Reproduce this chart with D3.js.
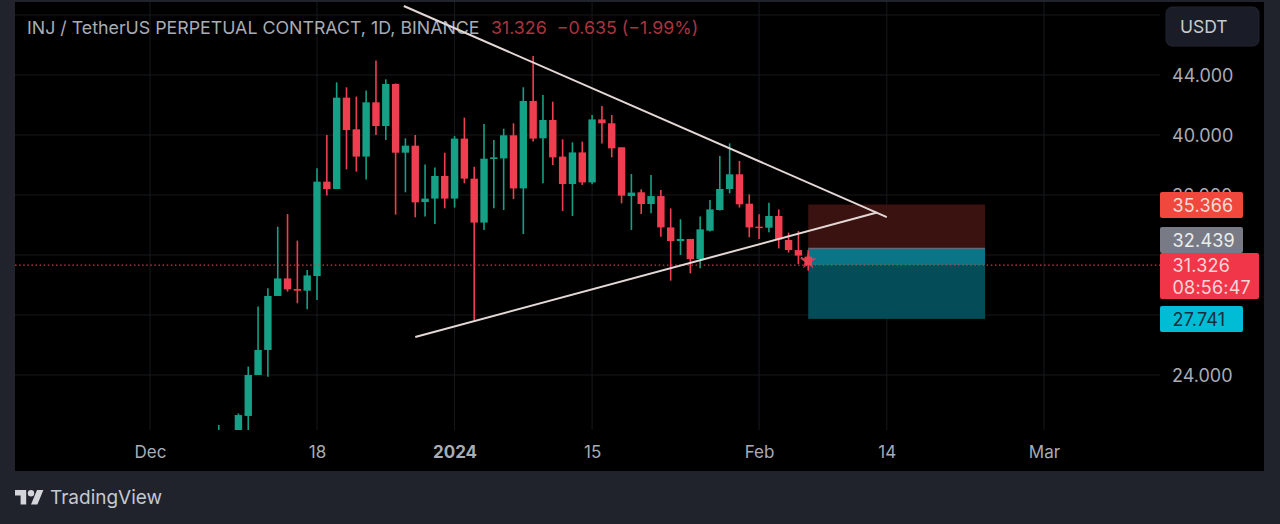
<!DOCTYPE html>
<html>
<head>
<meta charset="utf-8">
<script src="https://cdn.jsdelivr.net/npm/d3@7"></script>
<style>
html, body { margin: 0; padding: 0; background: #20222c; overflow: hidden; }
svg { display: block; font-family: Inter, Roboto, sans-serif; }
</style>
</head>
<body>
<div id="chart"></div>
<script>
// daily candles, first one is 8 Dec 2023
var opens = [20.2,20.0,19.9,21.27,24.0,25.67,29.27,30.44,29.73,29.62,30.6,36.89,36.4,42.49,40.38,38.56,42.18,40.6,43.4,38.82,39.29,35.53,35.76,37.27,35.76,39.76,37.09,34.16,38.4,38.44,
             39.98,36.44,42.27,39.78,41.0,38.56,36.73,38.84,36.84,41.04,40.78,39.18,35.93,36.18,35.4,35.93,33.84,32.93,33.07,31.73,33.62,35.0,36.4,37.38,35.42,33.89,33.82,34.6,33.0,32.33,31.89]
var highs = [20.67,20.3,21.44,24.56,28.56,29.78,33.89,34.73,32.96,31.0,37.78,40.0,43.51,43.18,42.56,42.96,44.96,43.71,43.44,39.78,40.0,38.04,37.84,38.82,39.93,41.16,37.89,40.73,39.67,40.42,
             40.78,43.18,45.27,42.67,42.22,39.71,39.51,39.56,41.33,41.93,41.33,39.18,37.4,36.38,37.33,36.33,35.11,34.38,33.07,34.56,35.67,38.6,39.44,38.27,36.04,34.71,35.49,35.04,33.49,33.6,32.33]
var lows = [20.0,19.8,19.7,20.33,24.0,23.89,29.27,29.56,28.78,28.38,29.0,35.96,36.4,37.71,37.56,37.04,40.0,39.67,34.69,36.18,34.51,34.56,34.07,35.11,35.16,36.78,27.67,33.67,35.11,35.0,
            35.73,33.4,39.56,36.78,38.0,34.93,34.6,36.67,36.71,39.44,38.51,35.44,33.67,34.73,34.78,33.22,30.29,32.0,30.78,31.11,33.56,34.96,36.11,35.16,33.18,33.07,33.51,32.44,32.16,31.4,30.96]
var closes = [20.3,20.3,21.33,24.0,25.67,29.27,30.44,29.71,29.62,30.64,36.89,36.4,42.49,40.33,38.56,42.18,40.6,43.4,38.82,39.29,35.51,35.76,37.27,35.76,39.76,37.09,34.16,38.42,38.51,39.98,
              36.44,42.27,39.76,41.0,38.51,36.73,38.84,36.84,41.04,40.78,39.11,35.96,36.16,35.4,35.93,33.84,32.93,33.07,31.73,33.71,35.04,36.4,37.38,35.38,33.84,33.8,34.6,33.04,32.33,31.96,31.33]

var gridPrices = [48, 44, 40, 36, 32, 28, 24]
// 32 and 28 sit behind the price tags, so no label for them
var priceTicks = [44, 40, 36, 24]
var timeTicks = ["2023-12-01", "2023-12-18", "2024-01-01", "2024-01-15", "2024-02-01", "2024-02-14", "2024-03-01"]
var timeLabels = ["Dec", "18", "2024", "15", "Feb", "14", "Mar"]

// drawings on the chart: [date, price]
var upperTrend = [["2023-12-26T20:00Z", 48.6], ["2024-02-14T00:00Z", 34.53]]
var lowerTrend = [["2023-12-28T00:00Z", 26.53], ["2024-02-13T00:00Z", 34.83]]
var positionDates = ["2024-02-06", "2024-02-24"]
var stopPrice = 35.366
var entryPrice = 32.439
var lastPrice = 31.326
var targetPrice = 27.741

var svg = d3.select("#chart").append("svg")
    .attr("width", 1280)
    .attr("height", 524)

var x = d3.scaleUtc()
    .domain([new Date("2023-12-01"), new Date("2024-03-01")])
    .range([150, 1044])
var y = d3.scaleLinear()
    .domain([44, 24])
    .range([75, 375])

svg.append("rect").attr("width", 1280).attr("height", 524).attr("fill", "#20222c")
svg.append("rect").attr("x", 15).attr("y", 2).attr("width", 1249).attr("height", 469).attr("fill", "#000")

svg.append("clipPath").attr("id", "pane").append("rect")
    .attr("x", 15).attr("y", 2).attr("width", 1145).attr("height", 428)

var pane = svg.append("g").attr("clip-path", "url(#pane)")

// Grid
pane.selectAll(".hgrid").data(gridPrices).enter().append("line")
    .attr("x1", 15).attr("x2", 1160)
    .attr("y1", function(d){ return y(d) }).attr("y2", function(d){ return y(d) })
    .attr("stroke", "#17191d")
pane.selectAll(".vgrid").data(timeTicks).enter().append("line")
    .attr("y1", 2).attr("y2", 430)
    .attr("x1", function(d){ return x(new Date(d)) }).attr("x2", function(d){ return x(new Date(d)) })
    .attr("stroke", "#17191d")

// Header sits under the trend line
svg.append("text").attr("x", 27).attr("y", 34)
    .attr("font-size", 17.8).attr("fill", "#a9acb5")
    .text("INJ / TetherUS PERPETUAL CONTRACT, 1D, BINANCE")
svg.append("text").attr("x", 491).attr("y", 34)
    .attr("font-size", 17.8).attr("fill", "#a8343f").attr("xml:space", "preserve")
    .text("31.326  \u22120.635 (\u22121.99%)")

// Position box
var boxLeft = x(new Date(positionDates[0]))
var boxWidth = x(new Date(positionDates[1])) - boxLeft
function box(top, bottom, color) {
    pane.append("rect")
        .attr("x", boxLeft).attr("width", boxWidth)
        .attr("y", y(top)).attr("height", y(bottom) - y(top))
        .attr("fill", color)
}
box(stopPrice, entryPrice, "#3a1210")
box(entryPrice, lastPrice, "#0a7587")
box(lastPrice, targetPrice, "#044c58")
pane.append("line")
    .attr("x1", boxLeft).attr("x2", boxLeft + boxWidth)
    .attr("y1", y(entryPrice)).attr("y2", y(entryPrice))
    .attr("stroke", "#5d6b72").attr("stroke-width", 1.5)

// Candles
var candles = d3.range(opens.length).map(function(i){
    return {
        date: d3.utcDay.offset(new Date("2023-12-08"), i),
        open: opens[i], high: highs[i], low: lows[i], close: closes[i]
    }
})
var candle = pane.selectAll(".candle").data(candles).enter().append("g")
    .attr("class", "candle")
    .attr("fill", function(d){ return d.close >= d.open ? "#16a085" : "#ef3e50" })
    .attr("stroke", function(d){ return d.close >= d.open ? "#16a085" : "#ef3e50" })
candle.append("line")
    .attr("x1", function(d){ return x(d.date) }).attr("x2", function(d){ return x(d.date) })
    .attr("y1", function(d){ return y(d.high) }).attr("y2", function(d){ return y(d.low) })
    .attr("stroke-width", 1.6)
candle.append("rect")
    .attr("stroke", "none")
    .attr("x", function(d){ return x(d.date) - 3.7 })
    .attr("width", 7.4)
    .attr("y", function(d){ return y(Math.max(d.open, d.close)) })
    .attr("height", function(d){ return Math.max(1.5, Math.abs(y(d.open) - y(d.close))) })

// Last price line
pane.append("line")
    .attr("x1", 15).attr("x2", 1160)
    .attr("y1", y(lastPrice)).attr("y2", y(lastPrice))
    .attr("stroke", "#c2404a").attr("stroke-width", 1.3)
    .attr("stroke-dasharray", "1.5 2.6")

// Trend lines
var trend = d3.line()
    .x(function(d){ return x(new Date(d[0])) })
    .y(function(d){ return y(d[1]) })
;[upperTrend, lowerTrend].forEach(function(t){
    svg.append("path")
        .attr("d", trend(t))
        .attr("fill", "none")
        .attr("stroke", "#e4d8d6")
        .attr("stroke-width", 2)
})

// Star marker on the last candle
var last = candles[candles.length - 1]
svg.append("line")
    .attr("x1", x(last.date) - 7).attr("y1", y(last.close) - 8)
    .attr("x2", x(last.date)).attr("y2", y(last.close) - 1)
    .attr("stroke", "#8a8d94").attr("stroke-width", 1.2)
svg.append("path")
    .attr("d", d3.symbol().type(d3.symbolStar).size(90)())
    .attr("transform", "translate(" + x(last.date) + "," + (y(last.close) - 4) + ")")
    .attr("fill", "#ef3e50").attr("fill-opacity", 0.85)

// Axes
var yAxis = svg.append("g")
    .attr("transform", "translate(1172,1)")
    .call(d3.axisRight(y).tickValues(priceTicks).tickSize(0).tickPadding(0).tickFormat(d3.format(".3f")))
yAxis.select(".domain").remove()
yAxis.selectAll("text").attr("font-size", 18).attr("font-family", "Inter, Roboto, sans-serif").attr("fill", "#a9acb5")

var xAxis = svg.append("g")
    .attr("transform", "translate(0,446)")
    .call(d3.axisBottom(x)
        .tickValues(timeTicks.map(function(d){ return new Date(d) }))
        .tickSize(0).tickPadding(0)
        .tickFormat(function(d, i){ return timeLabels[i] }))
xAxis.select(".domain").remove()
xAxis.selectAll("text")
    .attr("font-size", 17).attr("font-family", "Inter, Roboto, sans-serif").attr("fill", "#a9acb5")
    .attr("font-weight", function(d, i){ return timeLabels[i] == "2024" ? 700 : 400 })

// USDT button
svg.append("rect")
    .attr("x", 1166).attr("y", 7).attr("width", 93).attr("height", 39).attr("rx", 6)
    .attr("fill", "#1a1d28").attr("stroke", "#20242f")
svg.append("text").attr("x", 1180).attr("y", 33)
    .attr("font-size", 17.5).attr("fill", "#c8cad1").text("USDT")

// Price tags, text is centred on the tag and not on the price
function tag(price, top, height, width, fill, textColor, second) {
    svg.append("rect")
        .attr("x", 1160).attr("y", top).attr("width", width).attr("height", height).attr("rx", 2)
        .attr("fill", fill)
    svg.append("text").attr("x", 1172.5).attr("y", top + (second ? 19 : 19.5))
        .attr("font-size", 18).attr("letter-spacing", 0.2).attr("fill", textColor).text(d3.format(".3f")(price))
    if (second) {
        svg.append("text").attr("x", 1172.5).attr("y", top + 40.5)
            .attr("font-size", 18).attr("letter-spacing", 0.2).attr("fill", textColor).text(second)
    }
}
tag(stopPrice, 192, 26, 83, "#f0483c", "#f4dcd8")
tag(entryPrice, 227, 26, 83, "#787b86", "#eceded")
tag(lastPrice, 253, 46, 99, "#f23649", "#f7d5d8", "08:56:47")
tag(targetPrice, 306, 26, 83, "#00bcd4", "#10303f")

// Footer logo
var logo = svg.append("g")
    .attr("transform", "translate(15,486.8) scale(0.8)")
    .attr("fill", "#d4d5da")
logo.append("path").attr("d", "M14 22H7V11H0V4h14v18zM28 22h-8l7.5-18h8L28 22z")
logo.append("circle").attr("cx", 20).attr("cy", 8).attr("r", 4)
svg.append("text").attr("x", 50).attr("y", 504)
    .attr("font-size", 19).attr("fill", "#c6c8cf").text("TradingView")
</script>
</body>
</html>
